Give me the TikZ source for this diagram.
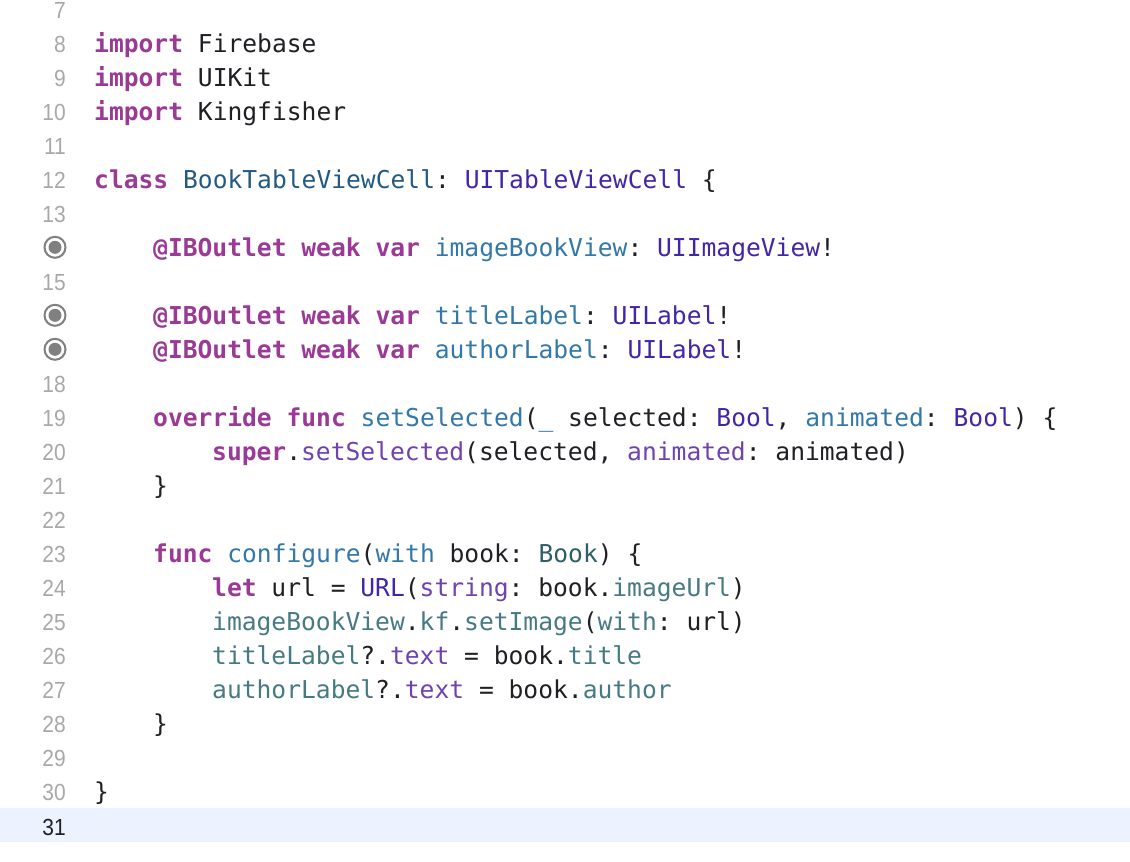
\documentclass[tikz,border=0pt]{standalone}
\usepackage{fontspec}
\setmonofont{DejaVu Sans Mono}
\setsansfont[FakeStretch=0.9]{Liberation Sans}
\definecolor{kwcol}{HTML}{9B3A96}
\definecolor{plaincol}{HTML}{1F1F24}
\definecolor{classcol}{HTML}{235A82}
\definecolor{declcol}{HTML}{3278A8}
\definecolor{syscol}{HTML}{4226A6}
\definecolor{methcol}{HTML}{6F42AE}
\definecolor{projcol}{HTML}{467A82}
\definecolor{typecol}{HTML}{2F5D68}
\definecolor{numcol}{HTML}{A8A8A8}
\definecolor{dotcol}{HTML}{808080}
\definecolor{curcol}{HTML}{ECF3FE}
\newcommand{\kw}[1]{\textcolor{kwcol}{\bfseries #1}}
\newcommand{\cl}[1]{\textcolor{classcol}{#1}}
\newcommand{\de}[1]{\textcolor{declcol}{#1}}
\newcommand{\sy}[1]{\textcolor{syscol}{#1}}
\newcommand{\me}[1]{\textcolor{methcol}{#1}}
\newcommand{\pr}[1]{\textcolor{projcol}{#1}}
\newcommand{\ty}[1]{\textcolor{typecol}{#1}}
\tikzset{
  code/.style={anchor=base west, inner sep=0pt, text=plaincol, font=\ttfamily\fontsize{24.62}{34}\selectfont},
  linenum/.style={anchor=base east, inner sep=0pt, text=numcol, font=\sffamily\fontsize{23.3}{26}\selectfont},
  outletring/.style={circle, draw=dotcol, line width=2pt, minimum size=21pt, inner sep=0pt},
  outletdot/.style={circle, fill=dotcol, minimum size=13pt, inner sep=0pt}
}
\begin{document}
\begin{tikzpicture}[x=1pt,y=-1pt]
  \useasboundingbox (0,0) rectangle (1130,862);
  \fill[white] (0,0) rectangle (1130,862);
  \fill[curcol] (0,808) rectangle (1130,842);
  \foreach \n in {7,...,13,15,18,19,...,30} {
    \node[linenum] (num\n) at (66,{52+34*(\n-8)}) {\n};
  }
  \node[linenum, text=plaincol] (num31) at (66,835) {31};
  \foreach \n/\y in {14/247.3,16/315.3,17/349.3} {
    \node[outletring] (ring\n) at (55,\y) {};
    \node[outletdot] (dot\n) at (55,\y) {};
  }
  \node[code] (line8) at (94,52) {\kw{import} Firebase};
  \node[code] (line9) at (94,86) {\kw{import} UIKit};
  \node[code] (line10) at (94,120) {\kw{import} Kingfisher};
  \node[code] (line12) at (94,188) {\kw{class} \cl{BookTableViewCell}: \sy{UITableViewCell} \{};
  \node[code] (line14) at (153,256) {\kw{@IBOutlet} \kw{weak} \kw{var} \de{imageBookView}: \sy{UIImageView}!};
  \node[code] (line16) at (153,324) {\kw{@IBOutlet} \kw{weak} \kw{var} \de{titleLabel}: \sy{UILabel}!};
  \node[code] (line17) at (153,358) {\kw{@IBOutlet} \kw{weak} \kw{var} \de{authorLabel}: \sy{UILabel}!};
  \node[code] (line19) at (153,426) {\kw{override} \kw{func} \de{setSelected}(\de{\_} selected: \sy{Bool}, \de{animated}: \sy{Bool}) \{};
  \node[code] (line20) at (212,460) {\kw{super}.\me{setSelected}(selected, \me{animated}: animated)};
  \node[code] (line21) at (153,494) {\}};
  \node[code] (line23) at (153,562) {\kw{func} \de{configure}(\de{with} book: \ty{Book}) \{};
  \node[code] (line24) at (212,596) {\kw{let} url = \sy{URL}(\me{string}: book.\pr{imageUrl})};
  \node[code] (line25) at (212,630) {\pr{imageBookView}.\pr{kf}.\pr{setImage}(\pr{with}: url)};
  \node[code] (line26) at (212,664) {\pr{titleLabel}?.\me{text} = book.\pr{title}};
  \node[code] (line27) at (212,698) {\pr{authorLabel}?.\me{text} = book.\pr{author}};
  \node[code] (line28) at (153,732) {\}};
  \node[code] (line30) at (94,800) {\}};
\end{tikzpicture}
\end{document}
